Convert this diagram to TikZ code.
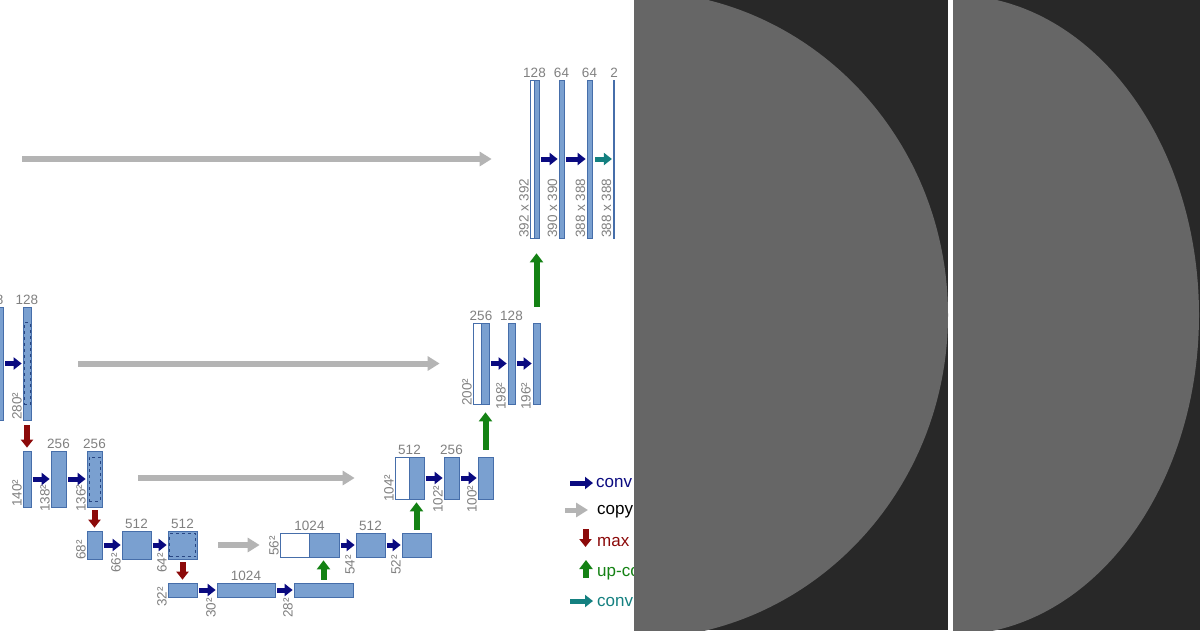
\documentclass[tikz,border=0pt]{standalone}
\usepackage{fontspec}
\setmainfont{Liberation Sans}
\usetikzlibrary{arrows.meta}

\definecolor{barfill}{RGB}{122,160,208}
\definecolor{barline}{RGB}{70,110,170}
\definecolor{cropline}{RGB}{40,70,130}
\definecolor{txtgrey}{RGB}{128,128,128}
\definecolor{convblue}{RGB}{10,10,128}
\definecolor{copygrey}{RGB}{180,180,180}
\definecolor{poolred}{RGB}{140,10,10}
\definecolor{upgreen}{RGB}{20,130,20}
\definecolor{outteal}{RGB}{20,128,128}
\definecolor{panel}{RGB}{40,40,40}
\definecolor{disc}{RGB}{102,102,102}

\begin{document}
\begin{tikzpicture}[x=1pt, y=-1pt]
\tikzstyle{bar} = [rectangle, draw=barline, fill=barfill, line width=0.7pt, inner sep=0pt]
\tikzstyle{catbar} = [bar, fill=white]
\tikzstyle{cropbox} = [rectangle, draw=cropline, dashed, line width=0.8pt, inner sep=0pt]
\tikzstyle{num} = [text=txtgrey, font=\fontsize{13.5}{15}\selectfont, inner sep=1.5pt]
\tikzstyle{dim} = [num, rotate=90, anchor=south west, inner sep=0pt]
\tikzstyle{key} = [font=\fontsize{17}{19}\selectfont, anchor=west, inner sep=0pt]
\tikzstyle{conv} = [draw=convblue, line width=5pt, -{Triangle[length=8pt,width=12pt]}, shorten <=1.5pt, shorten >=1pt]
\tikzstyle{outconv} = [conv, draw=outteal, shorten <=3pt]
\tikzstyle{skip} = [draw=copygrey, line width=6pt, -{Triangle[length=12pt,width=14pt]}]
\tikzstyle{pool} = [draw=poolred, line width=6pt, -{Triangle[length=8pt,width=12pt]}, shorten <=3pt, shorten >=3pt]
\tikzstyle{uconv} = [draw=upgreen, line width=6pt, -{Triangle[length=9pt,width=13pt]}, shorten <=3pt, shorten >=3pt]

\fill[white] (0,0) rectangle (1200,630);
\useasboundingbox (0,0) rectangle (1200,630);
\clip (0,0) rectangle (1200,630);

% level 1
\node[catbar, minimum width=9, minimum height=158, label={[num]above:128}] (u1) at (534.5,159) {};
\node[bar, minimum width=4.5, minimum height=158, anchor=east] (u1b) at (u1.east) {};
\node[bar, minimum width=5, minimum height=158, label={[num]above:64}] (r1a) at (561.5,159) {};
\node[bar, minimum width=5, minimum height=158, label={[num]above:64}] (r1b) at (589.5,159) {};
\node[bar, minimum width=1.5, minimum height=158, label={[num]above:2}] (r1c) at (614,159) {};
\node[dim] (s1a) at (529,238) {392 x 392};
\node[dim] (s1b) at (557.5,238) {390 x 390};
\node[dim] (s1c) at (585.5,238) {388 x 388};
\node[dim] (s1d) at (611.5,238) {388 x 388};

% level 2
\node[bar, minimum width=9, minimum height=113, label={[num, xshift=-7pt]above:128}] (e2a) at (-1,363.5) {};
\node[bar, minimum width=8, minimum height=113, label={[num]above:128}] (d2) at (27,363.5) {};
\node[cropbox, minimum width=6, minimum height=82] (c2) at (d2) {};
\node[catbar, minimum width=16, minimum height=81, label={[num]above:256}] (u2) at (481,363.5) {};
\node[bar, minimum width=8, minimum height=81, anchor=east] (u2b) at (u2.east) {};
\node[bar, minimum width=7, minimum height=81, label={[num]above:128}] (r2a) at (511.5,363.5) {};
\node[bar, minimum width=7, minimum height=81] (r2b) at (536.5,363.5) {};
\node[dim] (s2a) at (22,420) {280²};
\node[dim] (s2b) at (472,406) {200²};
\node[dim] (s2c) at (506,410) {198²};
\node[dim] (s2d) at (531,410) {196²};

% level 3
\node[bar, minimum width=8, minimum height=56] (e3a) at (27,479) {};
\node[bar, minimum width=15, minimum height=56, label={[num]above:256}] (e3b) at (58.5,479) {};
\node[bar, minimum width=15, minimum height=56, label={[num]above:256}] (d3) at (94.5,479) {};
\node[cropbox, minimum width=11, minimum height=44] (c3) at (d3) {};
\node[catbar, minimum width=29, minimum height=42, label={[num]above:512}] (u3) at (409.5,478) {};
\node[bar, minimum width=15, minimum height=42, anchor=east] (u3b) at (u3.east) {};
\node[bar, minimum width=15, minimum height=42, label={[num]above:256}] (r3a) at (451.5,478) {};
\node[bar, minimum width=15, minimum height=42] (r3b) at (485.5,478) {};
\node[dim] (s3a) at (22,507) {140²};
\node[dim] (s3b) at (50,512) {138²};
\node[dim] (s3c) at (86,512) {136²};
\node[dim] (s3d) at (394,502) {104²};
\node[dim] (s3e) at (443,513) {102²};
\node[dim] (s3f) at (477,513) {100²};

% level 4
\node[bar, minimum width=15, minimum height=28] (e4a) at (94.5,545) {};
\node[bar, minimum width=29, minimum height=28, label={[num]above:512}] (e4b) at (136.5,545) {};
\node[bar, minimum width=29, minimum height=28, label={[num]above:512}] (d4) at (182.5,545) {};
\node[cropbox, minimum width=26, minimum height=23] (c4) at (d4) {};
\node[catbar, minimum width=59, minimum height=24, label={[num]above:1024}] (u4) at (309.5,545) {};
\node[bar, minimum width=30, minimum height=24, anchor=east] (u4b) at (u4.east) {};
\node[bar, minimum width=29, minimum height=24, label={[num]above:512}] (r4a) at (370.5,545) {};
\node[bar, minimum width=29, minimum height=24] (r4b) at (416.5,545) {};
\node[dim] (s4a) at (86,560) {68²};
\node[dim] (s4b) at (121,573) {66²};
\node[dim] (s4c) at (167,573) {64²};
\node[dim] (s4d) at (279,556) {56²};
\node[dim] (s4e) at (355,575) {54²};
\node[dim] (s4f) at (401,575) {52²};

% level 5
\node[bar, minimum width=29, minimum height=14] (b5a) at (182.5,590) {};
\node[bar, minimum width=58, minimum height=14, label={[num]above:1024}] (b5b) at (246,590) {};
\node[bar, minimum width=59, minimum height=14] (b5c) at (323.5,590) {};
\node[dim] (s5a) at (167,607) {32²};
\node[dim] (s5b) at (216,618) {30²};
\node[dim] (s5c) at (293,618) {28²};

% arrows
\foreach \from/\to in {e2a/d2, u2b/r2a, r2a/r2b, u1b/r1a, r1a/r1b, e3a/e3b, e3b/d3, u3b/r3a, r3a/r3b, e4a/e4b, e4b/d4, u4b/r4a, r4a/r4b, b5a/b5b, b5b/b5c}
\draw[conv] (\from) -- (\to);
\draw[outconv] (r1b) -- (r1c);

\coordinate (s1) at (22,159);
\draw[skip] (s1) -- ([xshift=-38pt]u1.west);
\draw[skip] ([xshift=47pt]d2.east) -- ([xshift=-33pt]u2.west);
\draw[skip] ([xshift=36pt]d3.east |- u3.west) -- ([xshift=-40pt]u3.west);
\draw[skip] ([xshift=21pt]d4.east) -- ([xshift=-20pt]u4.west);

\draw[pool, shorten <=5pt] (d2) -- (e3a);
\draw[pool] (d3) -- (e4a);
\draw[pool] (d4) -- (b5a);

\draw[uconv] (b5c) -- (b5c |- u4b.south);
\draw[uconv] (r4b) -- (r4b |- u3b.south);
\draw[uconv, shorten <=7pt, shorten >=8pt] (r3b) -- (r3b |- u2b.south);
\draw[uconv, shorten <=16pt, shorten >=15pt] (r2b) -- (r2b |- u1b.south);

% legend
\node[key, text=convblue] (g1) at (596,483) {conv 3x3, ReLU};
\node[key] (g2) at (597,510) {copy and crop};
\node[key, text=poolred] (g3) at (597,542) {max pool 2x2};
\node[key, text=upgreen] (g4) at (597,572) {up-conv 2x2};
\node[key, text=outteal] (g5) at (597,601) {conv 1x1};
\coordinate (a1) at (570,483);
\coordinate (a2) at (565,510);
\coordinate (a3) at (585.5,529);
\coordinate (b3) at (585.5,547);
\coordinate (a4) at (586,578);
\coordinate (b4) at (586,560);
\coordinate (a5) at (570,601);
\draw[conv, shorten <=0pt, shorten >=3pt] (a1) -- (g1.west);
\draw[skip, line width=5pt, shorten >=9pt] (a2) -- (g2.west);
\draw[pool, shorten <=0pt, shorten >=0pt] (a3) -- (b3);
\draw[uconv, shorten <=0pt, shorten >=0pt] (a4) -- (b4);
\draw[outconv, shorten <=0pt, shorten >=4pt] (a5) -- (g5.west);

% panels
\fill[panel] (634,0) rectangle (948,630);
\fill[panel] (953,0) rectangle (1200,630);
\begin{scope}
\clip (634,0) rectangle (948,630);
\fill[disc] (634,315) ellipse [x radius=314, y radius=324];
\end{scope}
\begin{scope}
\clip (953,0) rectangle (1200,630);
\fill[disc] (953,315) ellipse [x radius=246, y radius=320];
\end{scope}
\end{tikzpicture}
\end{document}
